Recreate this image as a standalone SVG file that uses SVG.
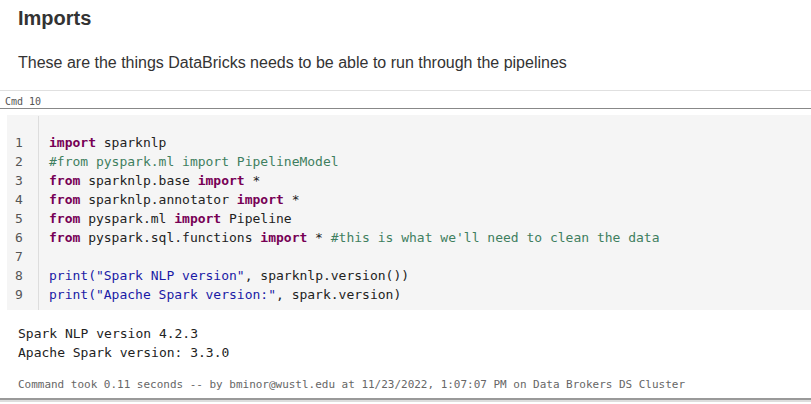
<svg xmlns="http://www.w3.org/2000/svg" width="811" height="404" viewBox="0 0 811 404">
<style>
.m{font-family:"DejaVu Sans Mono","Liberation Mono",monospace;font-size:13px;fill:#222}
.n{fill:#555}
.k{fill:#770055;font-weight:bold}
.c{fill:#3f7f5f}
.s{fill:#1a1aa6}
</style>
<rect width="811" height="404" fill="#fff"/>
<text x="18" y="25" font-family="Liberation Sans,Arial,sans-serif" font-size="20" font-weight="bold" fill="#333">Imports</text>
<text x="18" y="68" font-family="Liberation Sans,Arial,sans-serif" font-size="16" fill="#333">These are the things DataBricks needs to be able to run through the pipelines</text>
<line x1="0" y1="90.5" x2="811" y2="90.5" stroke="#e0e0e0"/>
<text x="5" y="105" font-family="DejaVu Sans Mono,monospace" font-size="10" fill="#555">Cmd 10</text>
<line x1="0" y1="108.5" x2="811" y2="108.5" stroke="#888"/>
<rect x="7" y="115" width="804" height="195" fill="#f5f5f5"/>
<line x1="38.5" y1="116" x2="38.5" y2="310" stroke="#ddd"/>
<g class="m">
<text class="n" x="15" y="147">1</text><text class="n" x="15" y="166">2</text><text class="n" x="15" y="185">3</text>
<text class="n" x="15" y="204">4</text><text class="n" x="15" y="223">5</text><text class="n" x="15" y="242">6</text>
<text class="n" x="15" y="261">7</text><text class="n" x="15" y="280">8</text><text class="n" x="15" y="299">9</text>
<text x="49" y="147" xml:space="preserve"><tspan class="k">import</tspan> sparknlp</text>
<text x="49" y="166" class="c">#from pyspark.ml import PipelineModel</text>
<text x="49" y="185" xml:space="preserve"><tspan class="k">from</tspan> sparknlp.base <tspan class="k">import</tspan> *</text>
<text x="49" y="204" xml:space="preserve"><tspan class="k">from</tspan> sparknlp.annotator <tspan class="k">import</tspan> *</text>
<text x="49" y="223" xml:space="preserve"><tspan class="k">from</tspan> pyspark.ml <tspan class="k">import</tspan> Pipeline</text>
<text x="49" y="242" xml:space="preserve"><tspan class="k">from</tspan> pyspark.sql.functions <tspan class="k">import</tspan> * <tspan class="c">#this is what we'll need to clean the data</tspan></text>
<text x="49" y="280" xml:space="preserve"><tspan class="s">print(</tspan><tspan class="s">"Spark NLP version"</tspan>, sparknlp.version())</text>
<text x="49" y="299" xml:space="preserve"><tspan class="s">print(</tspan><tspan class="s">"Apache Spark version:"</tspan>, spark.version)</text>
<text x="18" y="338">Spark NLP version 4.2.3</text>
<text x="18" y="357">Apache Spark version: 3.3.0</text>
</g>
<text x="18" y="388" font-family="DejaVu Sans Mono,monospace" font-size="10.5" fill="#666" textLength="667" lengthAdjust="spacingAndGlyphs">Command took 0.11 seconds -- by bminor@wustl.edu at 11/23/2022, 1:07:07 PM on Data Brokers DS Cluster</text>
<rect x="0" y="398" width="811" height="2" fill="#999"/>
<rect x="0" y="400" width="811" height="2" fill="#ddd"/>
</svg>
